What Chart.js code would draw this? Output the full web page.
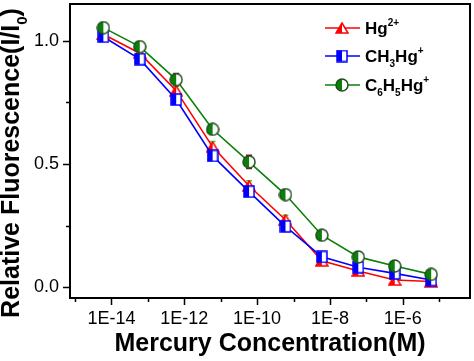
<!DOCTYPE html>
<html>
<head>
<meta charset="utf-8">
<script src="https://cdn.jsdelivr.net/npm/chart.js@4.4.1/dist/chart.umd.min.js"></script>
<style>
  html, body { margin: 0; padding: 0; background: #fff; }
</style>
</head>
<body>
<canvas id="chart" width="474" height="361"></canvas>
<script>
// data
const concentrations = [6e-15, 6e-14, 6e-13, 6e-12, 6e-11, 6e-10, 6e-9, 6e-8, 6e-7, 6e-6];
const hgValues     = [1.027, 0.950, 0.798, 0.570, 0.412, 0.274, 0.107, 0.066, 0.029, 0.023];
const ch3hgValues  = [1.017, 0.926, 0.762, 0.533, 0.388, 0.247, 0.123, 0.081, 0.056, 0.029];
const c6h5hgValues = [1.054, 0.977, 0.843, 0.641, 0.509, 0.376, 0.211, 0.123, 0.086, 0.052];
const hgErrors     = [0.012, 0.015, 0.020, 0.022, 0.020, 0.018, 0.012, 0.012, 0.012, 0.010];
const ch3hgErrors  = [0.015, 0.020, 0.018, 0.018, 0.015, 0.015, 0.015, 0.012, 0.012, 0.010];
const c6h5hgErrors = [0.012, 0.015, 0.025, 0.012, 0.027, 0.012, 0.012, 0.015, 0.012, 0.012];

const xTickValues = [1e-15, 1e-14, 1e-13, 1e-12, 1e-11, 1e-10, 1e-9, 1e-8, 1e-7, 1e-6, 1e-5];
const xTickLabels = ['', '1E-14', '', '1E-12', '', '1E-10', '', '1E-8', '', '1E-6', ''];
const yTickValues = [0, 0.25, 0.5, 0.75, 1.0];
const yTickLabels = ['0.0', '', '0.5', '', '1.0'];

const RED = '#ff0000', BLUE = '#0000ff', GREEN = '#0a800a';
const FONT = '"Liberation Sans", Arial, sans-serif';

function makeMarker(shape, color, edge, w, h) {
  const c = document.createElement('canvas');
  c.width = w; c.height = h;
  const g = c.getContext('2d');
  const p = new Path2D();
  if (shape === 'triangle') {
    p.moveTo(w / 2, 1); p.lineTo(w - 1, h - 1); p.lineTo(1, h - 1); p.closePath();
  } else if (shape === 'rect') {
    p.rect(1, 1, w - 2, h - 2);
  } else {
    p.arc(w / 2, h / 2, w / 2 - 1, 0, Math.PI * 2);
  }
  g.fillStyle = '#fff'; g.fill(p);
  g.save(); g.clip(p); g.fillStyle = color; g.fillRect(0, 0, w / 2, h); g.restore();
  g.lineWidth = 1.5; g.strokeStyle = edge; g.stroke(p);
  return c;
}

const triMarker = makeMarker('triangle', RED, RED, 14, 12);
const rectMarker = makeMarker('rect', BLUE, BLUE, 12, 13);
const circMarker = makeMarker('circle', GREEN, '#1d4d1d', 14, 14);

const toPoints = vals => concentrations.map((x, i) => ({ x: x, y: vals[i] }));

// draws a list of text runs with sub/superscripts
function drawRuns(ctx, runs, x, y, size, align) {
  const fontOf = r => 'bold ' + (r.k ? Math.round(size * 0.6) : size) + 'px ' + FONT;
  let total = 0;
  runs.forEach(r => { ctx.font = fontOf(r); total += ctx.measureText(r.t).width; });
  let cx = align === 'center' ? x - total / 2 : x;
  ctx.textAlign = 'left';
  ctx.textBaseline = 'alphabetic';
  runs.forEach(r => {
    ctx.font = fontOf(r);
    let dy = 0;
    if (r.k === 'sub') dy = size * 0.3;
    if (r.k === 'sup') dy = -size * 0.45;
    ctx.fillText(r.t, cx, y + dy);
    cx += ctx.measureText(r.t).width;
  });
}

const errorBars = {
  id: 'errorBars',
  beforeDatasetsDraw(chart) {
    const ctx = chart.ctx;
    const x = chart.scales.x, y = chart.scales.y;
    chart.data.datasets.forEach(ds => {
      ctx.save();
      ctx.strokeStyle = ds.errColor;
      ctx.lineWidth = 1.5;
      ds.data.forEach((pt, i) => {
        const px = x.getPixelForValue(pt.x);
        const top = y.getPixelForValue(pt.y + ds.errors[i]);
        const bot = y.getPixelForValue(pt.y - ds.errors[i]);
        ctx.beginPath();
        ctx.moveTo(px, top); ctx.lineTo(px, bot);
        ctx.moveTo(px - 3, top); ctx.lineTo(px + 3, top);
        ctx.moveTo(px - 3, bot); ctx.lineTo(px + 3, bot);
        ctx.stroke();
      });
      ctx.restore();
    });
  }
};

const frame = {
  id: 'frame',
  afterDraw(chart) {
    const ctx = chart.ctx;
    const a = chart.chartArea;
    const x = chart.scales.x, y = chart.scales.y;
    ctx.save();
    ctx.strokeStyle = '#000';
    ctx.lineWidth = 2;
    ctx.strokeRect(a.left, a.top, a.right - a.left, a.bottom - a.top);
    ctx.lineWidth = 1.5;
    ctx.beginPath();
    xTickValues.forEach((v, i) => {
      const px = Math.round(x.getPixelForValue(v)) + 0.5;
      const len = xTickLabels[i] ? 7 : 4;
      ctx.moveTo(px, a.bottom); ctx.lineTo(px, a.bottom + len);
    });
    yTickValues.forEach((v, i) => {
      const py = Math.round(y.getPixelForValue(v)) + 0.5;
      const len = yTickLabels[i] ? 7 : 4;
      ctx.moveTo(a.left, py); ctx.lineTo(a.left - len, py);
    });
    ctx.stroke();

    // y axis title
    ctx.fillStyle = '#000';
    ctx.translate(19, 163);
    ctx.rotate(-Math.PI / 2);
    drawRuns(ctx, [{ t: 'Relative Fluorescence(I/I' }, { t: '0', k: 'sub' }, { t: ')' }], 0, 0, 25, 'center');
    ctx.restore();

    // legend
    const items = [
      { img: triMarker, color: RED, y: 28, runs: [{ t: 'Hg' }, { t: '2+', k: 'sup' }] },
      { img: rectMarker, color: BLUE, y: 56, runs: [{ t: 'CH' }, { t: '3', k: 'sub' }, { t: 'Hg' }, { t: '+', k: 'sup' }] },
      { img: circMarker, color: GREEN, y: 85, runs: [{ t: 'C' }, { t: '6', k: 'sub' }, { t: 'H' }, { t: '5', k: 'sub' }, { t: 'Hg' }, { t: '+', k: 'sup' }] }
    ];
    ctx.save();
    items.forEach(it => {
      ctx.strokeStyle = it.color;
      ctx.lineWidth = 1.5;
      ctx.beginPath();
      ctx.moveTo(325, it.y); ctx.lineTo(360, it.y);
      ctx.stroke();
      ctx.drawImage(it.img, 342 - it.img.width / 2, it.y - it.img.height / 2);
      ctx.fillStyle = '#000';
      drawRuns(ctx, it.runs, 365, it.y + 6, 17, 'left');
    });
    ctx.restore();
  }
};

new Chart(document.getElementById('chart'), {
  type: 'line',
  data: {
    datasets: [
      { label: 'C6H5Hg+', data: toPoints(c6h5hgValues), errors: c6h5hgErrors, errColor: '#7a1a1a',
        borderColor: GREEN, pointStyle: circMarker, order: 0 },
      { label: 'CH3Hg+', data: toPoints(ch3hgValues), errors: ch3hgErrors, errColor: '#ff9a2e',
        borderColor: BLUE, pointStyle: rectMarker, order: 1 },
      { label: 'Hg2+', data: toPoints(hgValues), errors: hgErrors, errColor: '#33dd33',
        borderColor: RED, pointStyle: triMarker, order: 2 }
    ]
  },
  options: {
    responsive: false,
    animation: false,
    devicePixelRatio: 1,
    layout: { padding: { top: 2, right: 2, left: 0, bottom: 0 } },
    elements: {
      line: { borderWidth: 1.6, tension: 0, fill: false },
      point: { radius: 1, borderWidth: 0 }
    },
    plugins: { legend: { display: false }, tooltip: { enabled: false } },
    scales: {
      x: {
        type: 'logarithmic',
        min: 7.3e-16,
        max: 7.0e-5,
        afterBuildTicks: s => { s.ticks = xTickValues.map(v => ({ value: v })); },
        afterFit: s => { s.height = 63; s.paddingLeft = 0; s.paddingRight = 0; },
        grid: { display: false, drawTicks: false },
        border: { display: false },
        ticks: {
          autoSkip: false, maxRotation: 0, padding: 10, color: '#000',
          font: { family: FONT, size: 18 },
          callback: (v, i) => xTickLabels[i]
        },
        title: {
          display: true, text: 'Mercury Concentration(M)', color: '#000',
          font: { family: FONT, size: 25, weight: 'bold', lineHeight: 1.2 },
          padding: { top: 0, bottom: 2 }
        }
      },
      y: {
        type: 'linear',
        min: -0.044,
        max: 1.15,
        afterBuildTicks: s => { s.ticks = yTickValues.map(v => ({ value: v })); },
        afterFit: s => { s.width = 70; s.paddingTop = 0; s.paddingBottom = 0; },
        grid: { display: false, drawTicks: false },
        border: { display: false },
        ticks: {
          autoSkip: false, padding: 11, color: '#000',
          font: { family: FONT, size: 18 },
          callback: (v, i) => yTickLabels[i]
        }
      }
    }
  },
  plugins: [errorBars, frame]
});
</script>
</body>
</html>
